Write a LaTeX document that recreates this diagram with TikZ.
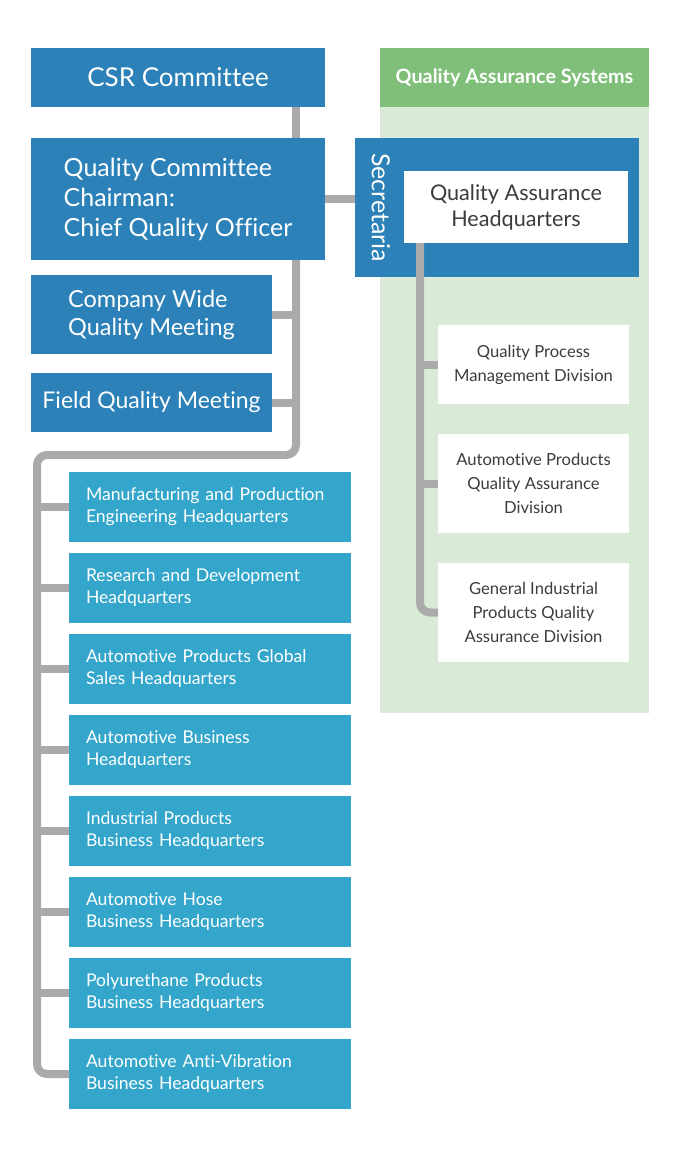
\documentclass[tikz,border=0pt]{standalone}
\usepackage{fontspec}
\setmainfont{Lato}[Ligatures=NoCommon]
\usetikzlibrary{positioning,calc}

\definecolor{qdark}{HTML}{2B81B8}
\definecolor{qlight}{HTML}{34A6CB}
\definecolor{qgreen}{HTML}{7FBF79}
\definecolor{qpale}{HTML}{D9EBD7}
\definecolor{qline}{HTML}{AAAAAA}
\definecolor{qtext}{HTML}{3C3C3C}

\begin{document}
\begin{tikzpicture}[
    x=1pt,y=-1pt,
    every node/.style={inner sep=0pt,outer sep=0pt},
    darkbox/.style={
        fill=qdark,text=white,align=left,
        font=\fontsize{25}{30}\selectfont
    },
    unitbox/.style={
        fill=qlight,text=white,minimum height=70pt,
        text width=248pt,inner xsep=17pt,align=left,
        font=\fontsize{17.6}{22}\selectfont
    },
    qabox/.style={
        fill=white,text=qtext,minimum width=191pt,align=center,
        font=\fontsize{16.6}{24}\selectfont
    },
    link/.style={draw=qline,line width=8pt}
]
\useasboundingbox[fill=white] (0,0) rectangle (680,1160);

% quality assurance systems panel
\fill[qpale] (380,107) rectangle (649,713);
\node[fill=qgreen,text=white,anchor=north west,
      minimum width=269pt,minimum height=59pt,
      font=\fontsize{19.8}{22}\bfseries] (qas) at (380,48)
  {Quality Assurance Systems};

% committees and meetings
\node[darkbox,anchor=north west,minimum width=294pt,minimum height=59pt,
      font=\fontsize{26}{30}\selectfont] (csr) at (31,48) {CSR Committee};
\node[darkbox,below=31pt of csr,minimum width=294pt,minimum height=122pt]
  (qc) {Quality Committee\\Chairman:\\Chief Quality Officer};
\node[darkbox,anchor=north west,minimum width=241pt,minimum height=79pt,
      font=\fontsize{23.5}{28}\selectfont] (cw) at (31,275)
  {Company Wide\\Quality Meeting};
\node[darkbox,below=19pt of cw,minimum width=241pt,minimum height=59pt,
      font=\fontsize{23}{28}\selectfont] (fqm) {Field Quality Meeting};

% secretariat
\node[fill=qdark,anchor=north west,minimum width=284pt,minimum height=139pt]
  (sec) at (355,138) {};
\node[text=white,rotate=-90,anchor=west,
      font=\fontsize{25}{28}\selectfont] (sectext) at (381,153) {Secretaria};
\node[fill=white,text=qtext,anchor=north west,minimum width=224pt,
      minimum height=72pt,align=center,
      font=\fontsize{21.6}{26}\selectfont] (qahq) at (404,171)
  {Quality Assurance\\Headquarters};

% quality assurance divisions
\node[qabox,anchor=north west,minimum height=79pt] (qa1) at (438,325)
  {Quality Process\\Management Division};
\node[qabox,below=30pt of qa1,minimum height=99pt] (qa2)
  {Automotive Products\\Quality Assurance\\Division};
\node[qabox,below=30pt of qa2,minimum height=99pt] (qa3)
  {General Industrial\\Products Quality\\Assurance Division};

% business headquarters
\node[unitbox,anchor=north west] (u1) at (69,472)
  {Manufacturing and Production\\Engineering Headquarters};
\node[unitbox,below=11pt of u1] (u2)
  {Research and Development\\Headquarters};
\node[unitbox,below=11pt of u2] (u3)
  {Automotive Products Global\\Sales Headquarters};
\node[unitbox,below=11pt of u3] (u4)
  {Automotive Business\\Headquarters};
\node[unitbox,below=11pt of u4] (u5)
  {Industrial Products\\Business Headquarters};
\node[unitbox,below=11pt of u5] (u6)
  {Automotive Hose\\Business Headquarters};
\node[unitbox,below=11pt of u6] (u7)
  {Polyurethane Products\\Business Headquarters};
\node[unitbox,below=11pt of u7] (u8)
  {Automotive Anti-Vibration\\Business Headquarters};

% connectors
\coordinate (spine) at (296,0);
\coordinate (bus) at (37,455);
\coordinate (rspine) at (420,0);
\draw[link] (csr.south -| spine) -- (qc.north -| spine);
\draw[link] (qc.east) -- (sec.west |- qc.east);
\draw[link,rounded corners=10pt] (qc.south -| spine) |- (bus) |- (u8.west);
\draw[link] (spine |- cw.east) -- (cw.east);
\draw[link] (spine |- fqm.east) -- (fqm.east);
\foreach \u in {u1,u2,u3,u4,u5,u6,u7}
  \draw[link] (bus |- \u.west) -- (\u.west);
\draw[link,rounded corners=10pt] (qahq.south -| rspine) |- (qa3.west);
\draw[link] (rspine |- qa1.west) -- (qa1.west);
\draw[link] (rspine |- qa2.west) -- (qa2.west);
\end{tikzpicture}
\end{document}
